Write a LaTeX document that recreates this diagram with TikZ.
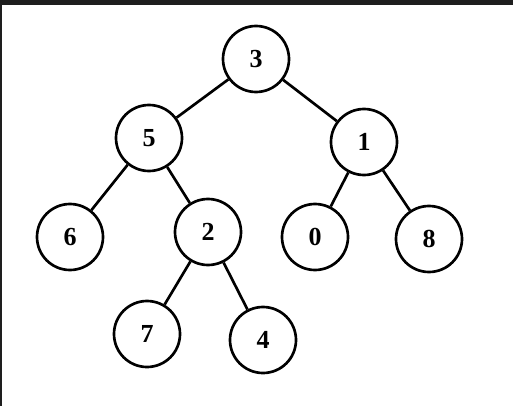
\documentclass[tikz,border=0pt]{standalone}
\usepackage{fontspec}
\setmainfont{Liberation Serif}
\usepackage{tikz}
\definecolor{frame}{HTML}{1E1E1E}

\begin{document}
\begin{tikzpicture}[x=0.75pt,y=0.75pt]
		\tikzstyle{every node}+=[inner sep=0pt]
		\tikzstyle{vertex}=[draw=black, circle, line width=2pt, minimum size=49.5pt, font=\fontsize{19.5}{19.5}\selectfont\bfseries]
		\tikzstyle{edge}=[black, line width=2pt]
		\useasboundingbox (0,0) rectangle (513,-406);
		\fill [white] (0,0) rectangle (513,-406);
		\fill [frame] (0,0) rectangle (513,-5);
		\fill [frame] (0,0) rectangle (2,-406);
		\node [vertex] (n3) at (256,-59) {3};
		\node [vertex] (n5) at (149,-138) {5};
		\node [vertex] (n1) at (364,-142) {1};
		\node [vertex] (n6) at (70,-237) {6};
		\node [vertex] (n2) at (208,-232) {2};
		\node [vertex] (n0) at (315,-237) {0};
		\node [vertex] (n8) at (429,-239) {8};
		\node [vertex] (n7) at (147,-334) {7};
		\node [vertex] (n4) at (263,-340) {4};
		\draw [edge] (n3) -- (n5);
		\draw [edge] (n3) -- (n1);
		\draw [edge] (n5) -- (n6);
		\draw [edge] (n5) -- (n2);
		\draw [edge] (n1) -- (n0);
		\draw [edge] (n1) -- (n8);
		\draw [edge] (n2) -- (n7);
		\draw [edge] (n2) -- (n4);
	\end{tikzpicture}
\end{document}
